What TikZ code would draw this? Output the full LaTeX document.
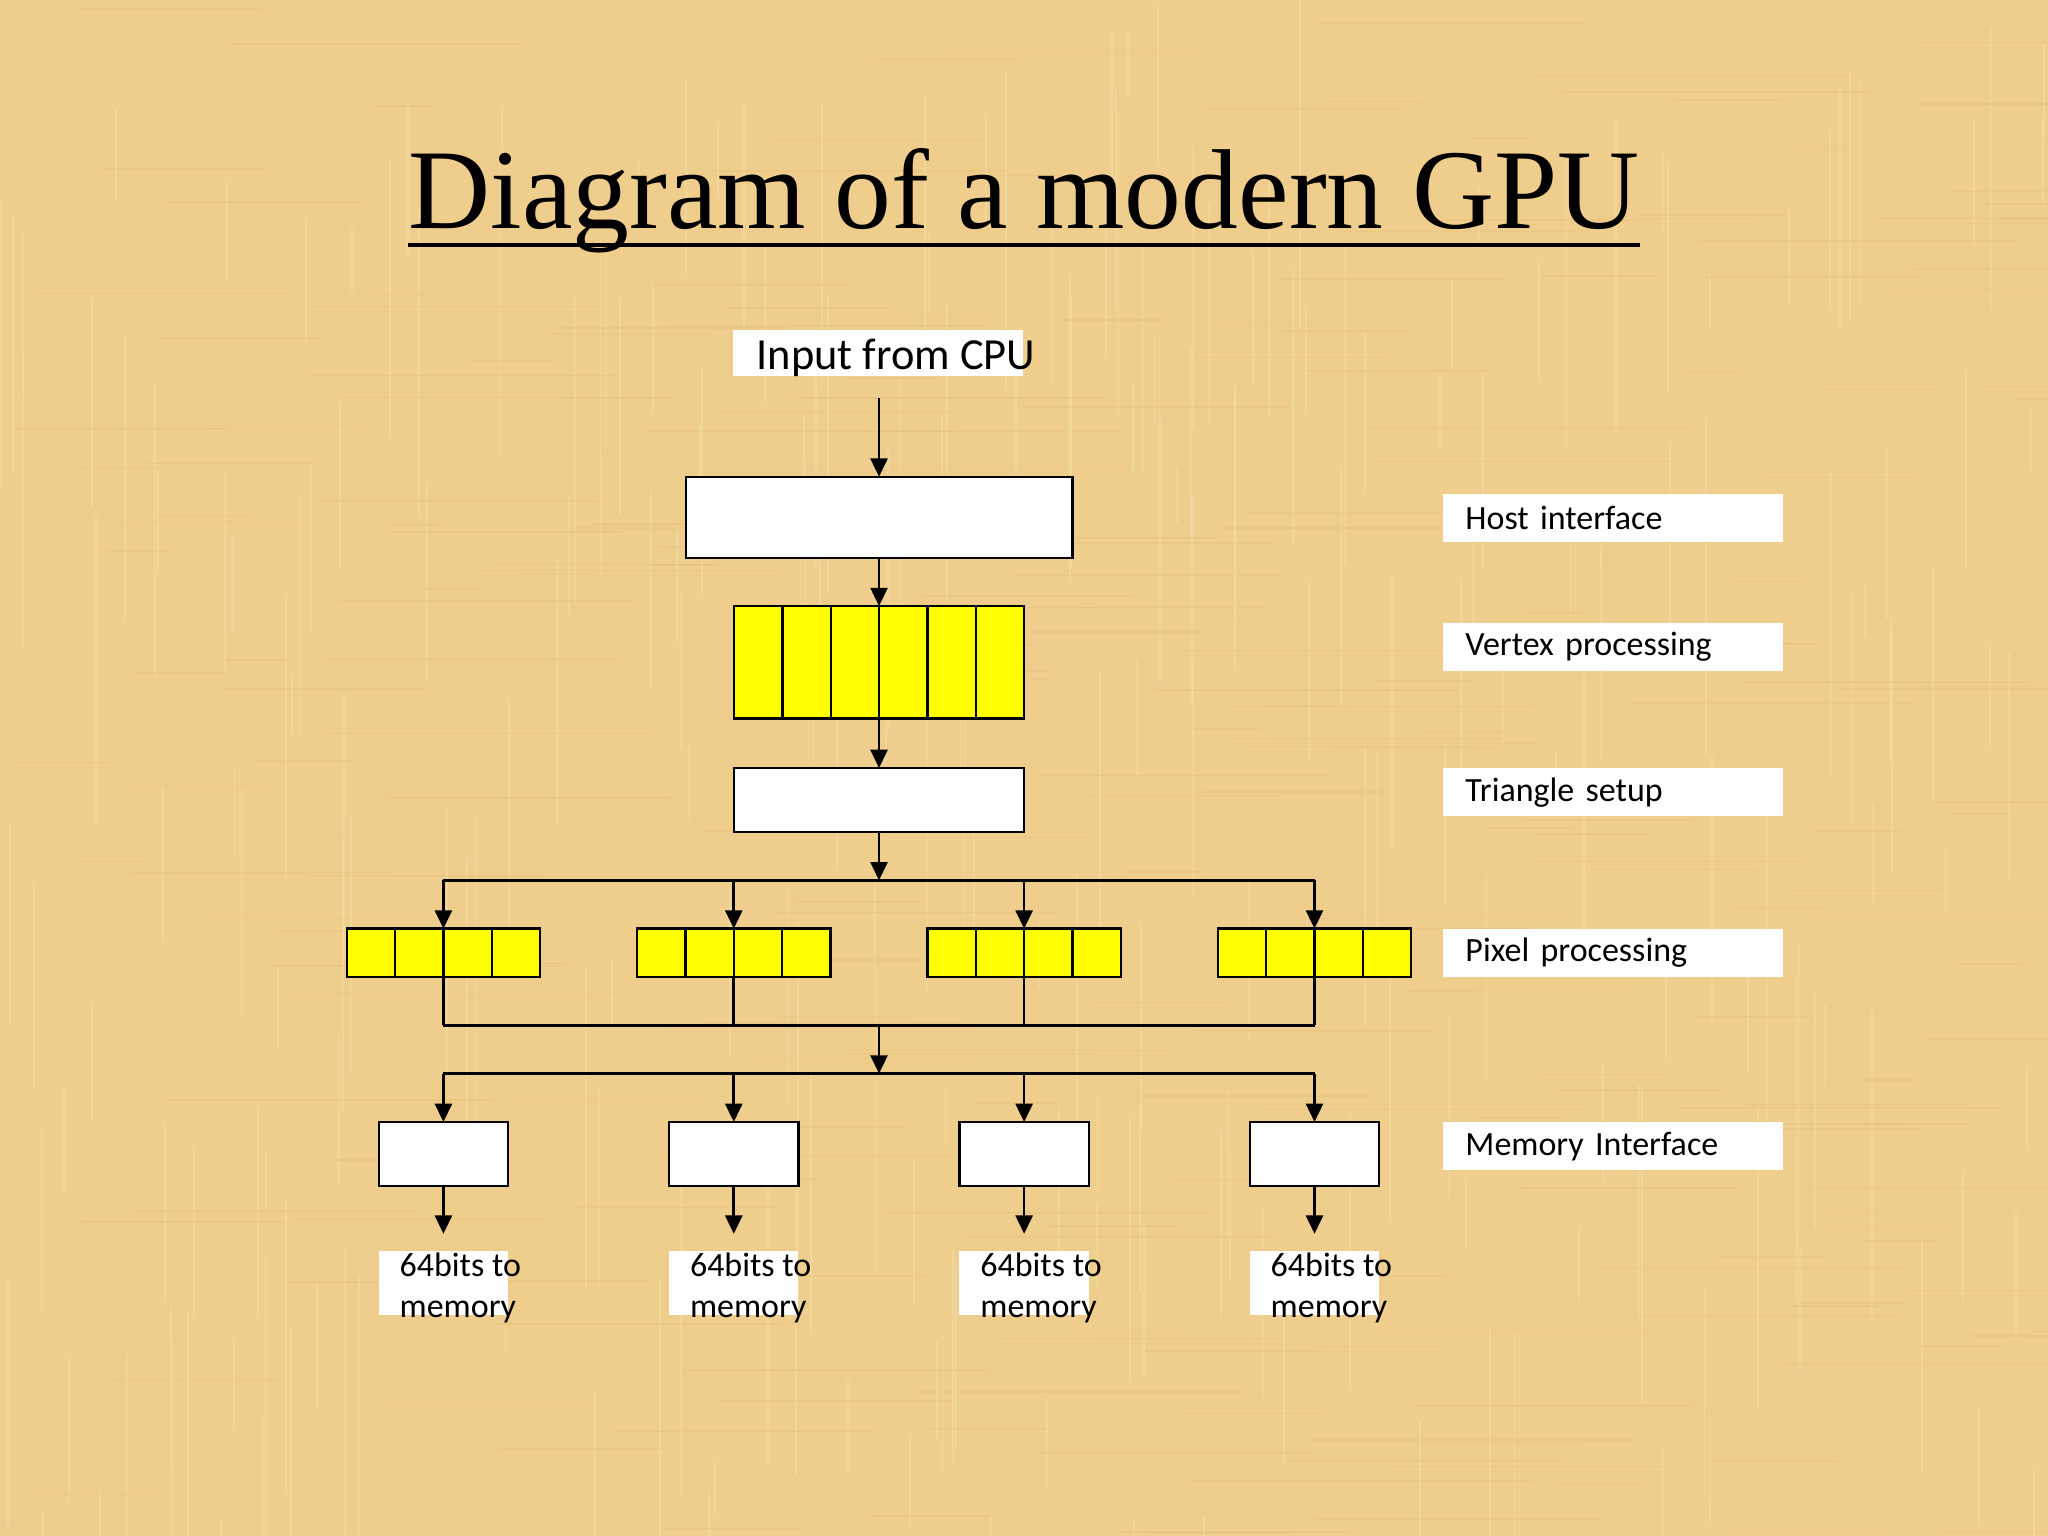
\documentclass[tikz,border=0pt]{standalone}
\usepackage{fontspec}
\setmainfont{Carlito}
\newfontfamily\titlefont{Liberation Serif}
\usepackage{tikz}
\usetikzlibrary{arrows.meta}
\definecolor{parchment}{RGB}{239,205,140}
\definecolor{parchdark}{RGB}{222,182,105}
\definecolor{parchlight}{RGB}{250,228,175}
\definecolor{cellyellow}{RGB}{255,255,0}

\begin{document}
\begin{tikzpicture}[x=0.5pt, y=-0.5pt,
    wire/.style={line width=1pt},
    arr/.style={wire, -{Triangle[length=7pt,width=6.5pt]}},
    box/.style={draw, line width=0.9pt, fill=white, inner sep=0pt, outer sep=0pt},
    cell/.style={draw, line width=0.9pt, fill=cellyellow, inner sep=0pt, outer sep=0pt, minimum width=18.5pt},
    whitepad/.style={fill=white, inner sep=0pt},
    tag/.style={fill=white, inner xsep=8.5pt, inner ysep=0pt, text width=113pt, align=left,
      minimum height=18.5pt, font=\fontsize{13}{16}\selectfont},
    outtext/.style={inner sep=0pt, anchor=north west, align=left, font=\fontsize{13}{16}\selectfont}]
  \fill[parchment] (0,0) rectangle (1568,1176);
  \useasboundingbox (0,0) rectangle (1568,1176);
  \pgfmathsetseed{7}
  \foreach \n in {1,...,260} {
    \pgfmathsetmacro\xa{rnd*1568}
    \pgfmathsetmacro\ya{rnd*1176}
    \pgfmathsetmacro\len{40+rnd*220}
    \draw[parchlight, line width=0.7pt, opacity=0.35] (\xa,\ya) -- (\xa,\ya+\len);
    \pgfmathsetmacro\xb{rnd*1568}
    \pgfmathsetmacro\yb{rnd*1176}
    \draw[parchdark, line width=0.6pt, opacity=0.25] (\xb,\yb) -- (\xb+\len,\yb);
  }

  \node[font=\titlefont\fontsize{43.5}{50}\selectfont, inner sep=0pt, anchor=base] (title) at (784,175) {Diagram of a modern GPU};
  \draw[line width=1.7pt] ([yshift=-6.2pt]title.base west) -- ([yshift=-6.2pt]title.base east);

  \node[whitepad, minimum width=111pt, minimum height=17.5pt] (inbox) at (672,270.5) {};
  \node[font=\fontsize{17}{20}\selectfont, inner sep=0pt, anchor=base west] (intext) at (579,283) {Input from CPU};

  \node[box, minimum width=148pt, minimum height=31pt] (host) at (673,396) {};
  \foreach \i in {1,...,6}
    \node[cell, minimum height=43pt] (v\i) at (673+37*\i-129.5,507) {};
  \node[box, minimum width=111pt, minimum height=24.5pt] (tri) at (673,612.5) {};

  \foreach \k/\x in {1/339.5, 2/561.8, 3/784.1, 4/1006.4} {
    \foreach \i in {1,...,4}
      \node[cell, minimum height=18.5pt] (p\k\i) at (\x+37*\i-92.5,729.5) {};
    \node[box, minimum width=49.5pt, minimum height=24.5pt] (m\k) at (\x,883.5) {};
    \node[whitepad, minimum width=49.5pt, minimum height=24.5pt] (o\k) at (\x,982.5) {};
    \node[outtext] (t\k) at ([xshift=8pt,yshift=-0.5pt]o\k.north west) {64bits to\\memory};
  }

  \node[tag] (lhost) at (1235,396.5) {Host interface};
  \node[tag] (lvertex) at (1235,495.5) {Vertex processing};
  \node[tag] (ltri) at (1235,606.5) {Triangle setup};
  \node[tag] (lpixel) at (1235,729.5) {Pixel processing};
  \node[tag] (lmem) at (1235,877.5) {Memory Interface};

  \coordinate (cpu) at (673,305);
  \coordinate (split) at (673,674);
  \coordinate (join) at (673,785);
  \coordinate (fan) at (673,822);

  \draw[arr] (cpu) -- (host.north);
  \draw[arr] (host.south) -- (v3.north east);
  \draw[arr] (v3.south east) -- (tri.north);
  \draw[arr] (tri.south) -- (split);
  \draw[wire] (p12.north east |- split) -- (p42.north east |- split);
  \draw[wire] (p12.south east |- join) -- (p42.south east |- join);
  \draw[arr] (join) -- (fan);
  \draw[wire] (m1.north |- fan) -- (m4.north |- fan);
  \foreach \k in {1,...,4} {
    \draw[arr] (p\k2.north east |- split) -- (p\k2.north east);
    \draw[wire] (p\k2.south east) -- (p\k2.south east |- join);
    \draw[arr] (m\k.north |- fan) -- (m\k.north);
    \draw[arr] (m\k.south) -- ([yshift=6.5pt]o\k.north);
  }
\end{tikzpicture}
\end{document}
